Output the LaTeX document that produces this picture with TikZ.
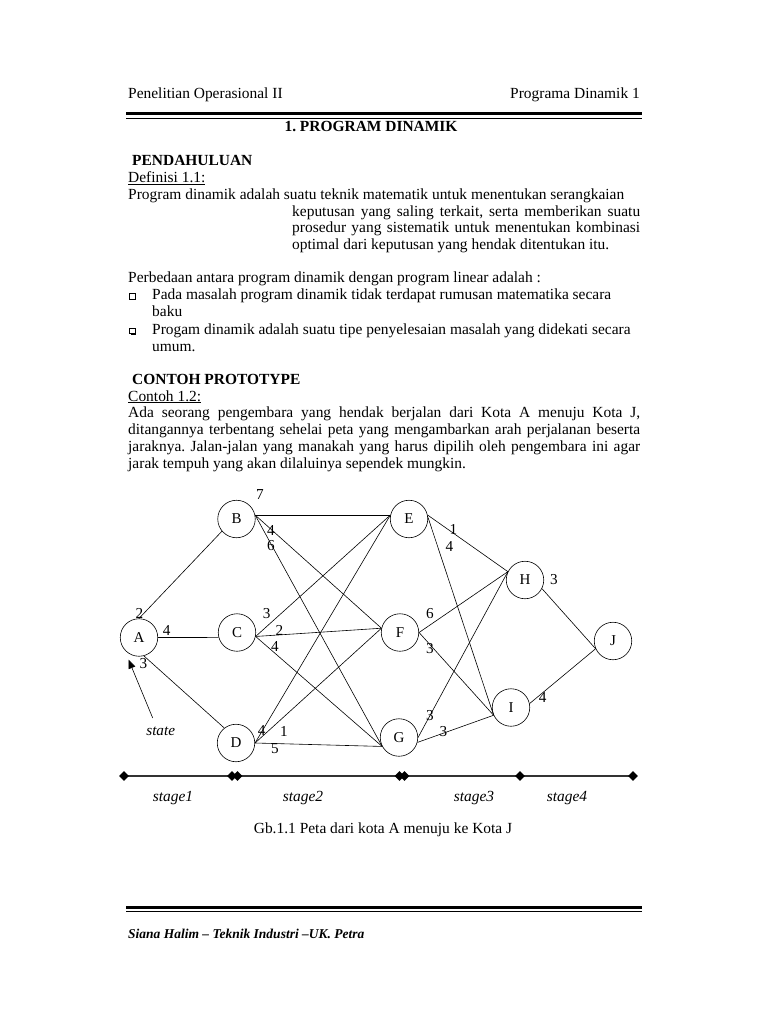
\documentclass[tikz,border=0pt]{standalone}
\usepackage{fontspec}
\setmainfont{Liberation Serif}
\frenchspacing
\usetikzlibrary{arrows.meta,shapes.geometric,positioning}
\tikzset{
    % gaya kota (lingkaran)
    kota/.style={
        draw,
        circle,
        line width=0.6pt,
        minimum size=37.5pt,
        inner sep=0pt,
        font=\fontsize{15}{17}\selectfont
    },
    jalan/.style={line width=0.6pt},
    bobot/.style={inner sep=0pt, font=\fontsize{15.2}{17}\selectfont},
    teks/.style={anchor=base west, inner sep=0pt, font=\fontsize{15.45}{17.3}\selectfont},
    tahap/.style={diamond, fill=black, inner sep=0pt, minimum size=10pt},
    statearrow/.style={
        line width=0.6pt,
        -{Triangle[length=9pt, width=7pt]}
    }
}

\begin{document}
\begin{tikzpicture}[x=1pt,y=-1pt]
    \useasboundingbox (0,0) rectangle (768,1024);
    \fill[white] (0,0) rectangle (768,1024);
    % ===================== kepala halaman =====================
    \node[teks] (kepkiri) at (128,99) {Penelitian Operasional II};
    \node[teks,anchor=base east] (kepkanan) at (640,99) {Programa Dinamik 1};
    \draw[line width=3pt] (126,114) -- (642,114);
    \draw[line width=0.8pt] (126,118) -- (642,118);

    % ===================== teks =====================
    \node[teks,anchor=base] (judul) at (371,132) {\bfseries 1. PROGRAM DINAMIK};
    \node[teks] (pend) at (132,166) {\bfseries PENDAHULUAN};
    \node[teks] (def) at (128,182.5) {\underline{Definisi 1.1:}};
    \node[teks] (d1) at (128,200) {Program dinamik adalah suatu teknik matematik untuk menentukan serangkaian};
    \node[teks] (d2) at (292,216.5) {\makebox[348pt][s]{keputusan yang saling terkait, serta memberikan suatu}};
    \node[teks] (d3) at (292,233) {\makebox[348pt][s]{prosedur yang sistematik untuk menentukan kombinasi}};
    \node[teks] (d4) at (292,249.5) {optimal dari keputusan yang hendak ditentukan itu.};

    \node[teks] (beda) at (128,282) {Perbedaan antara program dinamik dengan program linear adalah :};
    \foreach \yy in {299.3,334} {
        \draw[line width=0.5pt] (129.5,\yy-6) rectangle (135,\yy-0.5);
        \draw[line width=1.1pt] (130.5,\yy) -- (135.8,\yy) -- (135.8,\yy-5);
    }
    \node[teks] (p1) at (152,299.3) {Pada masalah program dinamik tidak terdapat rumusan matematika secara};
    \node[teks] (p1b) at (152,316.6) {baku};
    \node[teks] (p2) at (152,334) {Progam dinamik adalah suatu tipe penyelesaian masalah yang didekati secara};
    \node[teks] (p2b) at (152,351.3) {umum.};

    \node[teks] (contoh) at (132,384) {\bfseries CONTOH PROTOTYPE};
    \node[teks] (c12) at (128,401) {\underline{Contoh 1.2:}};
    \node[teks] (a1) at (128,417) {\makebox[512pt][s]{Ada seorang pengembara yang hendak berjalan dari Kota A menuju Kota J,}};
    \node[teks] (a2) at (128,434.3) {\makebox[512pt][s]{ditangannya terbentang sehelai peta yang mengambarkan arah perjalanan beserta}};
    \node[teks] (a3) at (128,451.6) {\makebox[512pt][s]{jaraknya. Jalan-jalan yang manakah yang harus dipilih oleh pengembara ini agar}};
    \node[teks] (a4) at (128,468.9) {jarak tempuh yang akan dilaluinya sependek mungkin.};

    % ===================== peta =====================
    \node[kota] (A) at (139,637.5) {A};
    \node[kota] (B) at (236.5,519) {B};
    \node[kota] (C) at (237,632.5) {C};
    \node[kota] (D) at (236,743) {D};
    \node[kota] (E) at (409,519) {E};
    \node[kota] (F) at (400,632.5) {F};
    \node[kota] (G) at (399,737.5) {G};
    \node[kota] (H) at (525,580) {H};
    \node[kota] (I) at (511,707.5) {I};
    \node[kota] (J) at (613,641) {J};

    \draw[jalan] (A.north) -- (B.220);
    \draw[jalan] (A.east) -- (C.195);
    \draw[jalan] (A.-75) -- (D.128);
    \foreach \u/\a in {B/12,C/-12,D/0}
      \foreach \v/\b in {E/168,F/167,G/208}
        \draw[jalan] (\u.\a) -- (\v.\b);
    \draw[jalan] (E.12) -- (H.154);
    \draw[jalan] (E.5) -- (I.204);
    \draw[jalan] (F.0) -- (H.154);
    \draw[jalan] (F.0) -- (I.204);
    \draw[jalan] (G.0) -- (H.154);
    \draw[jalan] (G.-15) -- (I.204);
    \draw[jalan] (H.-27) -- (J.204);
    \draw[jalan] (I.12) -- (J.204);

    %label
    \node[bobot] (wBE) at (260,495) {7};
    \node[bobot] (wBF) at (271,530) {4};
    \node[bobot] (wBG) at (271,546) {6};
    \node[bobot] (wAB) at (139.3,613.3) {2};
    \node[bobot] (wAC) at (166.7,630.7) {4};
    \node[bobot] (wAD) at (143.3,663.3) {3};
    \node[bobot] (wCE) at (266.7,613.3) {3};
    \node[bobot] (wCF) at (279.3,630) {2};
    \node[bobot] (wCG) at (275,646.7) {4};
    \node[bobot] (wDE) at (261.7,730) {4};
    \node[bobot] (wDF) at (284,731.7) {1};
    \node[bobot] (wDG) at (275,748.3) {5};
    \node[bobot] (wEH) at (453.3,529.3) {1};
    \node[bobot] (wEI) at (449.3,546.7) {4};
    \node[bobot] (wHJ) at (554,579.3) {3};
    \node[bobot] (wFH) at (430,613.3) {6};
    \node[bobot] (wFI) at (430,648.3) {3};
    \node[bobot] (wGH) at (430,716) {3};
    \node[bobot] (wGI) at (443.3,731.7) {3};
    \node[bobot] (wIJ) at (542.7,697.3) {4};

    \coordinate (statetail) at (152.7,718);
    \coordinate (statetip) at (128.5,659.5);
    \draw[statearrow] (statetail) -- (statetip);
    \node[bobot,font=\fontsize{15.2}{17}\selectfont\itshape] (state) at (160.7,731.7) {state};

    % ===================== garis tahap =====================
    \path
    (124,776) coordinate (s0)
    (232,776) coordinate (s1a)
    (237.5,776) coordinate (s1b)
    (399.5,776) coordinate (s2a)
    (404.5,776) coordinate (s2b)
    (520,776) coordinate (s3)
    (633,776) coordinate (s4);
    \draw[line width=1.6pt,black!80] (s0) -- (s4);
    \foreach \s in {s0,s1a,s1b,s2a,s2b,s3,s4}
        \node[tahap] (m-\s) at (\s) {};
    \node[teks,anchor=base] (st1) at (173,801) {\itshape stage1};
    \node[teks,anchor=base] (st2) at (303,801) {\itshape stage2};
    \node[teks,anchor=base] (st3) at (474,801) {\itshape stage3};
    \node[teks,anchor=base] (st4) at (567,801) {\itshape stage4};
    \node[teks,anchor=base] (gb) at (383,833) {Gb.1.1 Peta dari kota A menuju ke Kota J};

    % ===================== kaki halaman =====================
    \draw[line width=3pt] (126,907) -- (642,907);
    \draw[line width=0.8pt] (126,911) -- (642,911);
    \node[teks,font=\fontsize{13.5}{16}\selectfont\bfseries\itshape] (kaki) at (128,938) {Siana Halim -- Teknik Industri --UK. Petra};
\end{tikzpicture}
\end{document}
